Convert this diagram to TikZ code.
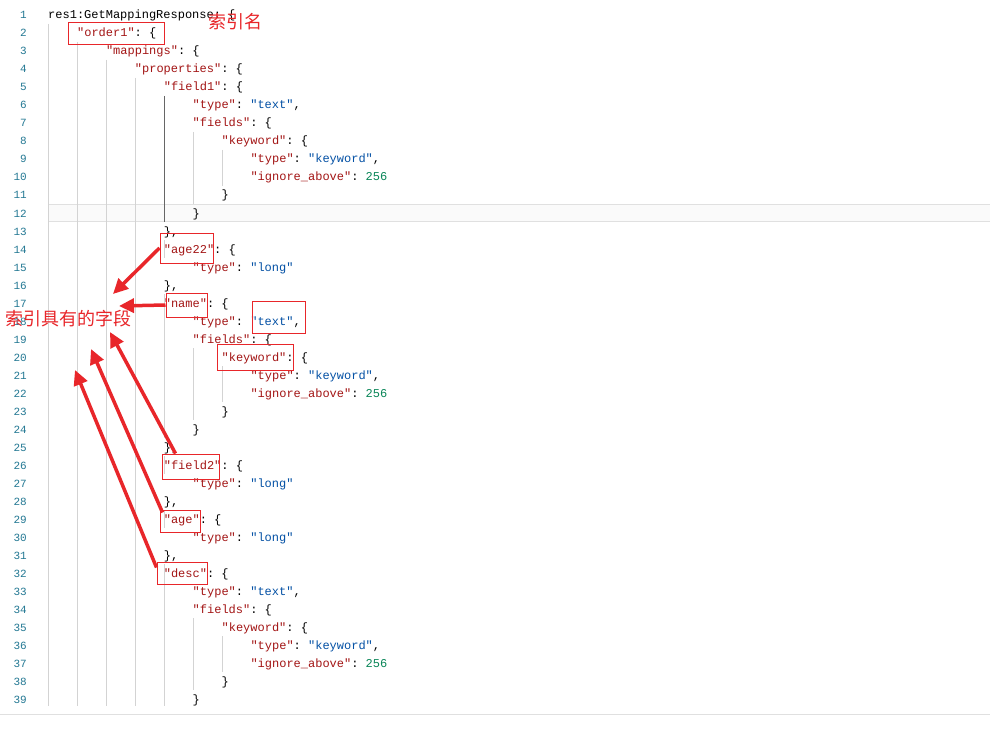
\documentclass[tikz,border=0pt]{standalone}
\usepackage{fontspec}
\setmonofont{Liberation Mono}
\newfontfamily\cjk{Noto Sans CJK SC}
\usetikzlibrary{arrows.meta}
\definecolor{keyc}{HTML}{A31515}
\definecolor{strc}{HTML}{0451A5}
\definecolor{numc}{HTML}{098658}
\definecolor{lnc}{HTML}{237893}
\definecolor{guide}{HTML}{D3D3D3}
\definecolor{redm}{HTML}{E8262A}
\newcommand{\K}[1]{\textcolor{keyc}{"#1"}}
\newcommand{\Sv}[1]{\textcolor{strc}{"#1"}}
\newcommand{\Nv}[1]{\textcolor{numc}{#1}}
\tikzset{
 code/.style={anchor=base west,inner sep=0pt,font=\ttfamily\fontsize{12}{12}\selectfont},
 lnum/.style={anchor=base east,inner sep=0pt,text=lnc,font=\ttfamily\fontsize{11}{11}\selectfont},
 gl/.style={draw=guide,line width=0.8pt},
 rbox/.style={draw=redm,line width=1pt,inner sep=0pt},
 rarr/.style={draw=redm,line width=3.5pt,-{Triangle[length=15pt,width=14pt]}},
 note/.style={text=redm,font=\cjk\fontsize{18}{18}\selectfont,inner sep=0pt,anchor=base west}
}
\begin{document}
\begin{tikzpicture}[x=1pt,y=-1pt]
\useasboundingbox[fill=white] (0,0) rectangle (990,738);
% current line highlight
\draw[draw=guide!70,fill=gray!4] (48,204) rectangle (990,221);
\draw[guide!70] (0,714) -- (990,714);
% guides
\draw[gl] (48,24)--(48,706);
\draw[gl] (77,42)--(77,706);
\draw[gl] (106,60)--(106,706);
\draw[gl] (135,78)--(135,706);
\draw[draw=gray!80!black,line width=0.8pt] (164,96)--(164,222);
\foreach \a/\b in {240/258,294/438,456/474,510/528,564/706}{\draw[gl] (164,\a)--(164,\b);}
\foreach \a/\b in {132/204,348/420,618/690}{\draw[gl] (193,\a)--(193,\b);}
\foreach \a/\b in {150/186,366/402,636/672}{\draw[gl] (222,\a)--(222,\b);}
% code
\foreach \n/\i/\t in {
1/0/{res1:GetMappingResponse: \{},
2/1/{\K{order1}: \{},
3/2/{\K{mappings}: \{},
4/3/{\K{properties}: \{},
5/4/{\K{field1}: \{},
6/5/{\K{type}: \Sv{text},},
7/5/{\K{fields}: \{},
8/6/{\K{keyword}: \{},
9/7/{\K{type}: \Sv{keyword},},
10/7/{\K{ignore\_above}: \Nv{256}},
11/6/{\}},
12/5/{\}},
13/4/{\},},
14/4/{\K{age22}: \{},
15/5/{\K{type}: \Sv{long}},
16/4/{\},},
17/4/{\K{name}: \{},
18/5/{\K{type}: \Sv{text},},
19/5/{\K{fields}: \{},
20/6/{\K{keyword}: \{},
21/7/{\K{type}: \Sv{keyword},},
22/7/{\K{ignore\_above}: \Nv{256}},
23/6/{\}},
24/5/{\}},
25/4/{\},},
26/4/{\K{field2}: \{},
27/5/{\K{type}: \Sv{long}},
28/4/{\},},
29/4/{\K{age}: \{},
30/5/{\K{type}: \Sv{long}},
31/4/{\},},
32/4/{\K{desc}: \{},
33/5/{\K{type}: \Sv{text},},
34/5/{\K{fields}: \{},
35/6/{\K{keyword}: \{},
36/7/{\K{type}: \Sv{keyword},},
37/7/{\K{ignore\_above}: \Nv{256}},
38/6/{\}},
39/5/{\}}}{
 \pgfmathsetmacro{\yy}{15+(\n-1)*18+4}
 \pgfmathsetmacro{\xx}{48+\i*28.9}
 \node[lnum] (n\n) at (27,\yy) {\n};
 \node[code] (l\n) at (\xx,\yy) {\t};
}
% red boxes
\node[rbox,minimum width=96pt,minimum height=22pt] (bOrder) at (116,34) {};
\node[rbox,minimum width=53pt,minimum height=30pt] (bAge22) at (186.5,248) {};
\node[rbox,minimum width=41pt,minimum height=24pt] (bName) at (186.5,305) {};
\node[rbox,minimum width=53pt,minimum height=32pt] (bText) at (278.5,317) {};
\node[rbox,minimum width=76pt,minimum height=26pt] (bKey) at (255,357) {};
\node[rbox,minimum width=57pt,minimum height=25pt] (bField2) at (190.5,466.5) {};
\node[rbox,minimum width=40pt,minimum height=22pt] (bAge) at (180,521) {};
\node[rbox,minimum width=50pt,minimum height=22pt] (bDesc) at (182,573) {};
% notes
\node[note] (t1) at (208,29) {索引名};
\node[note] (t2) at (5,325) {索引具有的字段};
% arrows
\coordinate (e1) at (113,294);
\coordinate (e2) at (119,306);
\coordinate (e3) at (110,332);
\coordinate (e4) at (91,349);
\coordinate (e5) at (75,370);
\draw[rarr] (bAge22.west) -- (e1);
\draw[rarr] (bName.west) -- (e2);
\draw[rarr] (bField2.north west) ++(14,0) coordinate (s3) (s3) -- (e3);
\draw[rarr] (bAge.north west) ++(3,3) coordinate (s4) (s4) -- (e4);
\draw[rarr] (bDesc.north west) ++(0,6) coordinate (s5) (s5) -- (e5);
\end{tikzpicture}
\end{document}
